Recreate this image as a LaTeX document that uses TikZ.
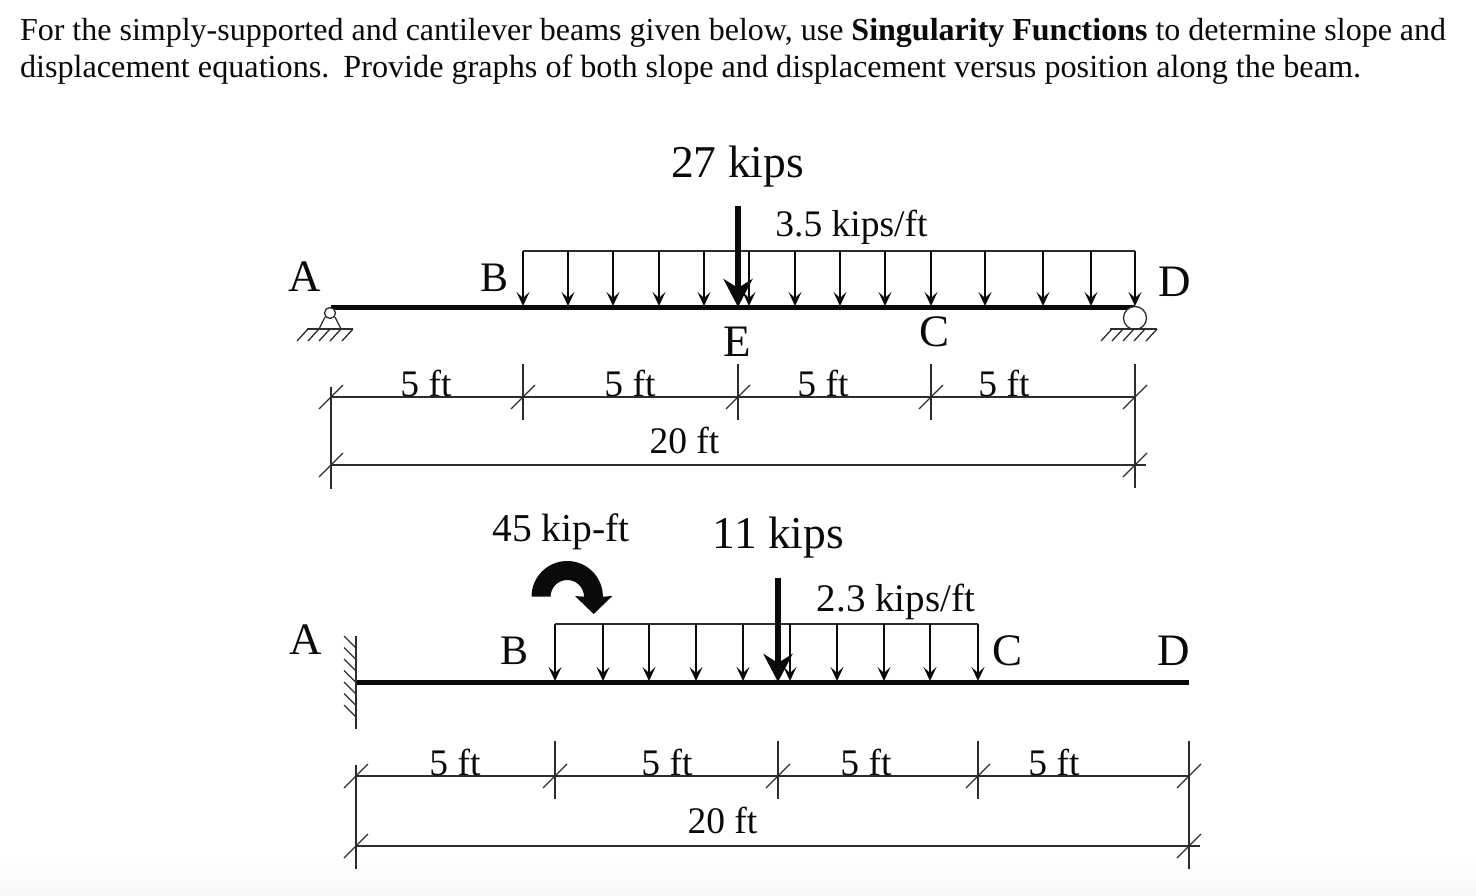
\documentclass[tikz,border=0pt]{standalone}
\usepackage{xcolor}
\usepackage{fontspec}
\setmainfont{Liberation Serif}
\usepackage{tikz}
\usetikzlibrary{arrows.meta}
\definecolor{inkblack}{RGB}{10, 10, 10}
\definecolor{dimgray}{RGB}{45, 45, 45}
\definecolor{fadegray}{RGB}{248, 248, 248}
\tikzset{
    beamline/.style={line width=5pt, inkblack},
    loadline/.style={line width=1.6pt, dimgray},
    loadarrow/.style={line width=2.2pt, inkblack, -{Stealth[length=14pt, width=13pt, inset=6pt]}},
    bigarrow/.style={line width=5.5pt, inkblack, -{Stealth[length=28pt, width=29pt, inset=9pt]}},
    dimline/.style={line width=1.3pt, dimgray},
    hatch/.style={line width=1.3pt, dimgray},
    txt/.style={inner sep=0pt, outer sep=0pt, anchor=base, inkblack},
    para/.style={inner sep=0pt, outer sep=0pt, anchor=base west, inkblack, font=\fontsize{32}{32}\selectfont},
    forcelbl/.style={txt, font=\fontsize{45.5}{45.5}\selectfont},
    ptlbl/.style={txt, font=\fontsize{45}{45}\selectfont},
    dimlbl/.style={txt, font=\fontsize{37.5}{37.5}\selectfont},
}
\begin{document}
\begin{tikzpicture}[x=1pt, y=-1pt]
        \useasboundingbox (0,0) rectangle (1476,896);
        \shade[top color=white, bottom color=fadegray] (0,852) rectangle (1476,896);

        % Problem statement
        \node[para] (line1) at (20,40.5) {For the simply-supported and cantilever beams given below, use \textbf{Singularity Functions} to determine slope and};
        \node[para, font=\fontsize{32.2}{32.2}\selectfont] (line2) at (20,77.5) {displacement equations.\hspace{0.1em} Provide graphs of both slope and displacement versus position along the beam.};

        % Simply supported beam
        \begin{scope}
            \coordinate (A) at (331,307);
            \coordinate (D) at (1135,307);
            \coordinate (E) at (738,307);
            \draw[beamline] (A) -- (D);
            \draw[loadline] (523,251) -- (1135,251);
            \foreach \x in {523,568,613,659,704,749,795,840,885,931,985,1043,1091,1135}
                \draw[loadarrow] (\x,251) -- (\x,306);
            \draw[bigarrow] (738,206) -- (E);

            % Pin at A
            \draw[line width=1.3pt, dimgray] (319,329) -- (325,317) (341,329) -- (335,317);
            \draw[line width=1.3pt, dimgray, fill=white] (330,313) circle (5.5);
            \draw[hatch] (307,329) -- (353,329);
            \foreach \x in {308,319,330,341,353}
                \draw[hatch] (\x,329) -- (\x-11,341);

            % Roller at D
            \draw[line width=1.3pt, dimgray, fill=white] (1135,318) circle (11.5);
            \draw[hatch] (1110,329) -- (1157,329);
            \foreach \x in {1112,1123,1134,1145,1157}
                \draw[hatch] (\x,329) -- (\x-11,341);

            \node[forcelbl] (kips27) at (737.5,178) {27 kips};
            \node[dimlbl] (wtop) at (851.5,237) {3.5 kips/ft};
            \node[ptlbl] (lblA) at (305,291.5) {A};
            \node[ptlbl, font=\fontsize{42}{42}\selectfont] (lblB) at (494.5,291.5) {B};
            \node[ptlbl] (lblD) at (1175,296.5) {D};
            \node[ptlbl] (lblE) at (737,356) {E};
            \node[ptlbl] (lblC) at (934,346) {C};

            % Dimensions
            \draw[dimline] (331,397) -- (1135,397);
            \draw[dimline] (331,465) -- (1146,465);
            \draw[dimline] (331,387) -- (331,489);
            \draw[dimline] (1135,364) -- (1135,488);
            \foreach \x in {523,738,931}
                \draw[dimline] (\x,364) -- (\x,420);
            \foreach \x in {331,523,738,931,1135}
                \draw[dimline] (\x-12,409) -- (\x+12,385);
            \foreach \x in {331,1135}
                \draw[dimline] (\x-12,477) -- (\x+12,453);
            \node[dimlbl] (top5a) at (426,396) {5 ft};
            \node[dimlbl] (top5b) at (630,396) {5 ft};
            \node[dimlbl] (top5c) at (823,396) {5 ft};
            \node[dimlbl] (top5d) at (1004,396) {5 ft};
            \node[dimlbl] (top20) at (684.5,453) {20 ft};
        \end{scope}

        % Cantilever beam
        \begin{scope}
            \coordinate (fixA) at (356,682);
            \coordinate (endD) at (1189,682);
            \coordinate (midE) at (778,682);
            \draw[beamline] (fixA) -- (endD);
            \draw[loadline] (555,624) -- (978,624);
            \foreach \x in {555,603,649,696,743,790,837,884,930,978}
                \draw[loadarrow] (\x,624) -- (\x,681);
            \draw[bigarrow] (778,578) -- (midE);

            % Wall at A
            \draw[hatch] (356,636) -- (356,729);
            \foreach \y in {636,647.5,659,670.5,682,693.5,705}
                \draw[hatch] (344,\y) -- (356,\y+12);

            % Applied moment
            \fill[inkblack] (531.5,596.7) arc[start angle=180, end angle=360, radius=35.7]
                -- (612.3,596) -- (593.7,614) -- (575,596) -- (584,596.7)
                arc[start angle=360, end angle=180, radius=16.7] -- cycle;

            \node[forcelbl] (kips11) at (778.5,548) {11 kips};
            \node[txt, font=\fontsize{39.5}{39.5}\selectfont] (kipft) at (561,541) {45 kip-ft};
            \node[txt, font=\fontsize{39}{39}\selectfont] (wbot) at (896,611) {2.3 kips/ft};
            \node[ptlbl] (lowA) at (306,654.5) {A};
            \node[ptlbl, font=\fontsize{42}{42}\selectfont] (lowB) at (514.5,664.5) {B};
            \node[ptlbl] (lowC) at (1007,665) {C};
            \node[ptlbl] (lowD) at (1174,665) {D};

            % Dimensions
            \draw[dimline] (356,776) -- (1189,776);
            \draw[dimline] (356,846) -- (1200,846);
            \draw[dimline] (356,765) -- (356,869);
            \draw[dimline] (1189,741) -- (1189,869);
            \foreach \x in {555,778,978}
                \draw[dimline] (\x,741) -- (\x,799);
            \foreach \x in {356,555,778,978,1189}
                \draw[dimline] (\x-12,788) -- (\x+12,764);
            \foreach \x in {356,1189}
                \draw[dimline] (\x-12,858) -- (\x+12,834);
            \node[dimlbl] (low5a) at (455,775) {5 ft};
            \node[dimlbl] (low5b) at (667,775) {5 ft};
            \node[dimlbl] (low5c) at (866,775) {5 ft};
            \node[dimlbl] (low5d) at (1054,775) {5 ft};
            \node[dimlbl] (low20) at (722.5,833) {20 ft};
        \end{scope}
    \end{tikzpicture}
\end{document}
